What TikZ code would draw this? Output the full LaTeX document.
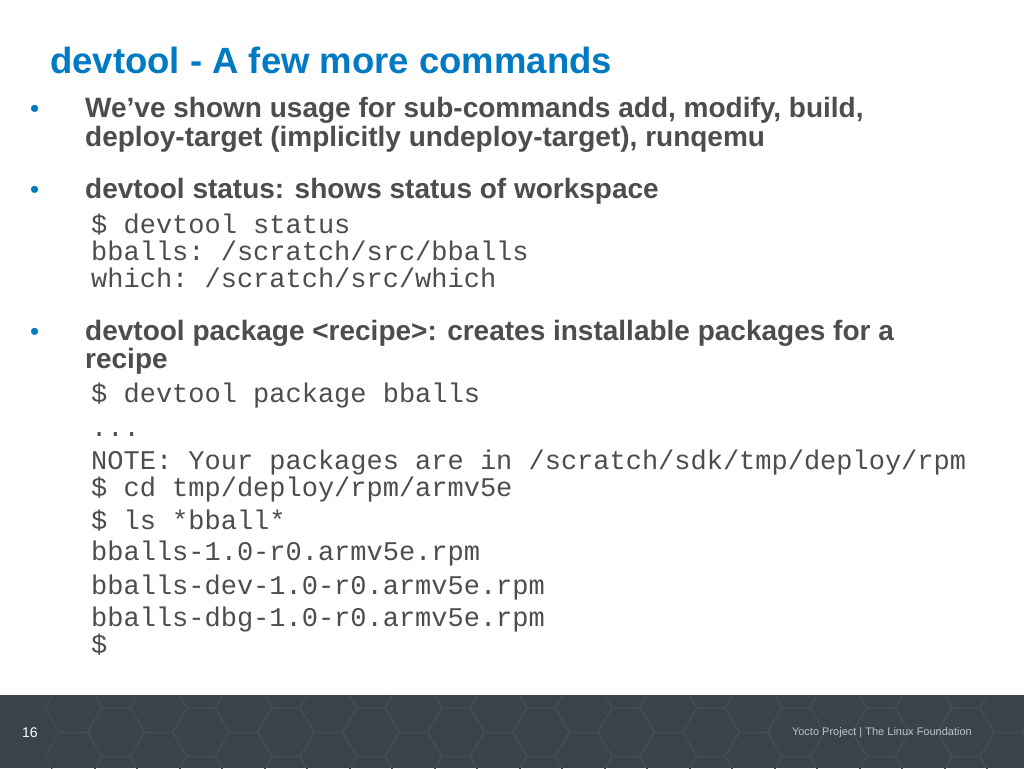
\documentclass[tikz,border=0pt]{standalone}
\usepackage{fontspec}
\setmainfont{Liberation Sans}
\setmonofont{Liberation Mono}
\definecolor{titleblue}{RGB}{0,122,194}
\definecolor{bodygray}{RGB}{77,77,77}
\definecolor{footbg}{RGB}{58,66,75}
\definecolor{hexline}{RGB}{70,79,88}
\definecolor{footgray}{RGB}{190,195,200}
\tikzset{
  title/.style={anchor=base west, text=titleblue, font=\fontsize{36.5}{36.5}\selectfont\bfseries, inner sep=0pt},
  bullettext/.style={anchor=base west, text=bodygray, font=\fontsize{28}{28}\selectfont\bfseries, inner sep=0pt},
  dot/.style={anchor=base west, text=titleblue, font=\fontsize{26}{26}\selectfont, inner sep=0pt},
  code/.style={anchor=base west, text=bodygray, font=\fontsize{27}{27}\selectfont\ttfamily, inner sep=0pt},
}
\begin{document}
\begin{tikzpicture}[x=1pt,y=-1pt]
  \useasboundingbox (0,0) rectangle (1024,768);
  \fill[white] (0,0) rectangle (1024,768);
  % footer band
  \fill[footbg] (0,695) rectangle (1024,768);
  \begin{scope}
    \clip (0,695) rectangle (1024,768);
    \foreach \i in {-1,...,24} {
      \pgfmathsetmacro\cx{116+42.5*\i}
      \pgfmathsetmacro\cy{isodd(\i) ? 708 : 732}
      \foreach \j in {-1,0,1} {
        \draw[hexline, line width=1pt, shift={(\cx,\cy+49*\j)}]
          (28.3,0) -- (14.2,24.5) -- (-14.2,24.5) -- (-28.3,0) -- (-14.2,-24.5) -- (14.2,-24.5) -- cycle;
      }
    }
  \end{scope}
  \node[anchor=base west, text=white, font=\fontsize{14}{14}\selectfont, inner sep=0pt] (pagenum) at (22,737) {16};
  \node[anchor=base east, text=footgray, font=\fontsize{11}{11}\selectfont, inner sep=0pt] (footer) at (972,735) {Yocto Project | The Linux Foundation};
  % title
  \node[title] (head) at (50,74) {devtool - A few more commands};
  % bullets
  \node[dot] (d1) at (30,117) {•};
  \node[bullettext] (b1a) at (85,117) {We’ve shown usage for sub-commands add, modify, build,};
  \node[bullettext] (b1b) at (85,146) {deploy-target (implicitly undeploy-target), runqemu};
  \node[dot] (d2) at (30,198) {•};
  \node[bullettext] (b2) at (85,198) {devtool status: shows status of workspace};
  \node[code] (c1) at (91,233) {\$ devtool status};
  \node[code] (c2) at (91,260) {bballs: /scratch/src/bballs};
  \node[code] (c3) at (91,287) {which: /scratch/src/which};
  \node[dot] (d3) at (30,340) {•};
  \node[bullettext] (b3a) at (85,340) {devtool package <recipe>: creates installable packages for a};
  \node[bullettext] (b3b) at (85,368) {recipe};
  \node[code] (p1) at (91,402) {\$ devtool package bballs};
  \node[code] (p2) at (91,436) {...};
  \node[code] (p3) at (91,469) {NOTE: Your packages are in /scratch/sdk/tmp/deploy/rpm};
  \node[code] (p4) at (91,496) {\$ cd tmp/deploy/rpm/armv5e};
  \node[code] (p5) at (91,529) {\$ ls *bball*};
  \node[code] (p6) at (91,560) {bballs-1.0-r0.armv5e.rpm};
  \node[code] (p7) at (91,594) {bballs-dev-1.0-r0.armv5e.rpm};
  \node[code] (p8) at (91,626) {bballs-dbg-1.0-r0.armv5e.rpm};
  \node[code] (p9) at (91,653) {\$};
\end{tikzpicture}
\end{document}
